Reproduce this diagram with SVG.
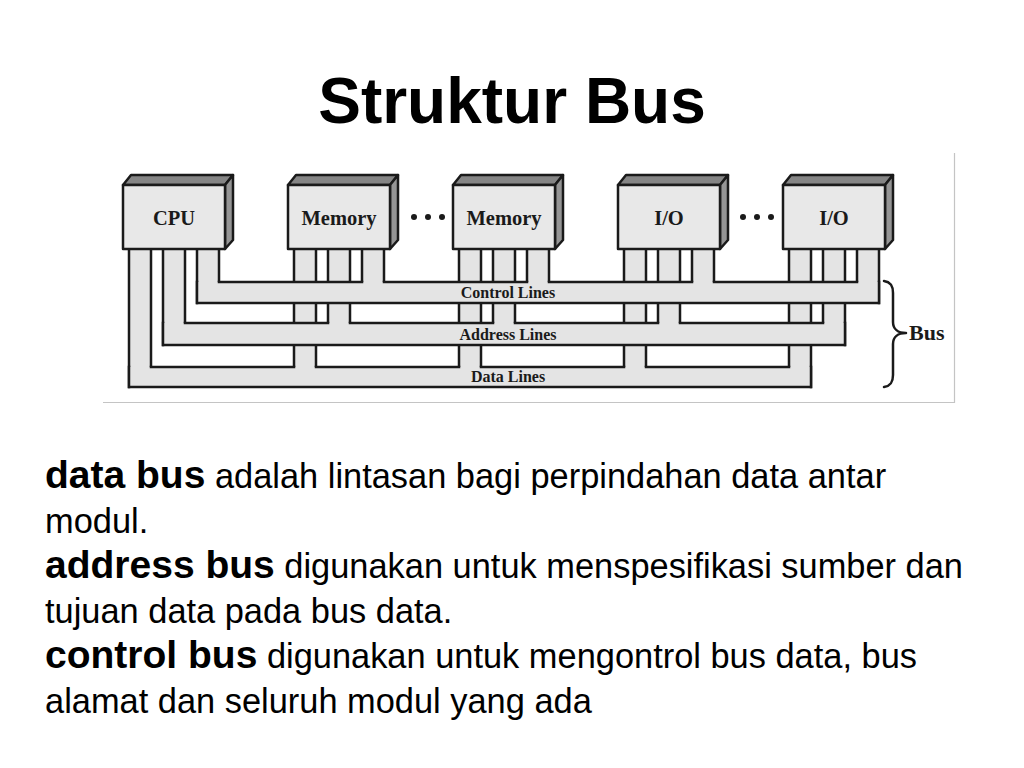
<svg xmlns="http://www.w3.org/2000/svg" width="1024" height="768" viewBox="0 0 1024 768">
<style>
.front{fill:#e8e8e8;stroke:#1a1a1a;stroke-width:2.5;stroke-linejoin:round}
.top{fill:#858585;stroke:#1a1a1a;stroke-width:2.5;stroke-linejoin:round}
.side{fill:#959595;stroke:#1a1a1a;stroke-width:2.5;stroke-linejoin:round}
.mlabel{font-family:"Liberation Serif","Times New Roman",serif;font-weight:bold;font-size:20.5px;fill:#1a1a1a;text-anchor:middle}
.blabel{font-family:"Liberation Serif","Times New Roman",serif;font-weight:bold;font-size:16px;fill:#1a1a1a;text-anchor:middle}
.fill{fill:#e4e4e4;stroke:none}
.ln{stroke:#1a1a1a;stroke-width:2.5;fill:none;stroke-linecap:square;stroke-linejoin:miter}
.dot{fill:#1a1a1a}
.frame{stroke:#c4c4c4;stroke-width:1.2;fill:none}
.title{font-family:"Liberation Sans",Arial,sans-serif;font-weight:bold;font-size:64px;fill:#000;text-anchor:middle}
.body{font-family:"Liberation Sans",Arial,sans-serif;font-size:34.4px;fill:#000}
.b{font-weight:bold;font-size:39px}
</style>
<defs>
<g id="box">
<polygon class="top" points="0,10 8,0 110,0 102,10"/>
<polygon class="side" points="102,10 110,0 110,65 102,74"/>
<rect class="front" x="0" y="10" width="102" height="64"/>
</g>
</defs>
<rect width="1024" height="768" fill="#fff"/>
<text class="title" x="512" y="123">Struktur Bus</text>

<g id="figure-frame">
<path class="frame" d="M954.5,153 V402.5 H103"/>
</g>

<g id="connectors">
<g class="fill">
<rect x="129" y="249" width="22" height="118"/>
<rect x="163" y="249" width="22" height="74"/>
<rect x="197" y="249" width="22" height="33"/>
<rect x="294" y="249" width="22" height="118"/>
<rect x="328" y="249" width="22" height="74"/>
<rect x="362" y="249" width="22" height="33"/>
<rect x="459" y="249" width="22" height="118"/>
<rect x="493" y="249" width="22" height="74"/>
<rect x="527" y="249" width="22" height="33"/>
<rect x="624" y="249" width="22" height="118"/>
<rect x="658" y="249" width="22" height="74"/>
<rect x="692" y="249" width="22" height="33"/>
<rect x="789" y="249" width="22" height="118"/>
<rect x="823" y="249" width="22" height="74"/>
<rect x="857" y="249" width="22" height="33"/>
</g>
<path class="ln" d="
M129,249V387 M151,249V367 M163,249V345 M185,249V323 M197,249V303 M219,249V282
M294,249V367 M316,249V367 M328,249V323 M350,249V323 M362,249V282 M384,249V282
M459,249V367 M481,249V367 M493,249V323 M515,249V323 M527,249V282 M549,249V282
M624,249V367 M646,249V367 M658,249V323 M680,249V323 M692,249V282 M714,249V282
M789,249V367 M811,249V387 M823,249V323 M845,249V345 M857,249V282 M879,249V303"/>
<rect class="fill" x="197" y="282" width="682" height="21"/>
<rect class="fill" x="163" y="323" width="682" height="22"/>
<rect class="fill" x="129" y="367" width="682" height="20"/>
<path class="ln" d="M197,282V303H879V282 M219,282H362 M384,282H527 M549,282H692 M714,282H857"/>
<path class="ln" d="M163,323V345H845V323 M185,323H328 M350,323H493 M515,323H658 M680,323H823"/>
<path class="ln" d="M129,367V387H811V367 M151,367H294 M316,367H459 M481,367H624 M646,367H789"/>
<text class="blabel" x="508" y="298">Control Lines</text>
<text class="blabel" x="508" y="340">Address Lines</text>
<text class="blabel" x="508" y="382">Data Lines</text>
</g>

<g id="cpu"><use href="#box" x="123" y="175"/><text class="mlabel" x="174" y="225">CPU</text></g>
<g id="memory1"><use href="#box" x="288" y="175"/><text class="mlabel" x="339" y="225">Memory</text></g>
<g id="dots1"><circle class="dot" cx="414" cy="217" r="3"/><circle class="dot" cx="428" cy="217" r="3"/><circle class="dot" cx="442" cy="217" r="3"/></g>
<g id="memory2"><use href="#box" x="453" y="175"/><text class="mlabel" x="504" y="225">Memory</text></g>
<g id="io1"><use href="#box" x="618" y="175"/><text class="mlabel" x="669" y="225">I/O</text></g>
<g id="dots2"><circle class="dot" cx="743" cy="217" r="3"/><circle class="dot" cx="757" cy="217" r="3"/><circle class="dot" cx="771" cy="217" r="3"/></g>
<g id="io2"><use href="#box" x="783" y="175"/><text class="mlabel" x="834" y="225">I/O</text></g>

<g id="bus-brace">
<path class="ln" style="stroke-linecap:round;stroke-linejoin:round" d="M884,281 C891,282 893,286 893,293 L893,322 C893,329 898,333 906,333 C898,333 893,337 893,344 L893,375 C893,382 891,386 884,387"/>
<text style="font-family:'Liberation Serif','Times New Roman',serif;font-weight:bold;font-size:22px;fill:#1a1a1a" x="909" y="340">Bus</text>
</g>

<g id="description">
<text class="body" x="45" y="488"><tspan class="b">data bus</tspan> adalah lintasan bagi perpindahan data antar</text>
<text class="body" x="45" y="533">modul.</text>
<text class="body" x="45" y="578"><tspan class="b">address bus</tspan> digunakan untuk menspesifikasi sumber dan</text>
<text class="body" x="45" y="623">tujuan data pada bus data.</text>
<text class="body" x="45" y="668"><tspan class="b">control bus</tspan> digunakan untuk mengontrol bus data, bus</text>
<text class="body" x="45" y="713">alamat dan seluruh modul yang ada</text>
</g>
</svg>
